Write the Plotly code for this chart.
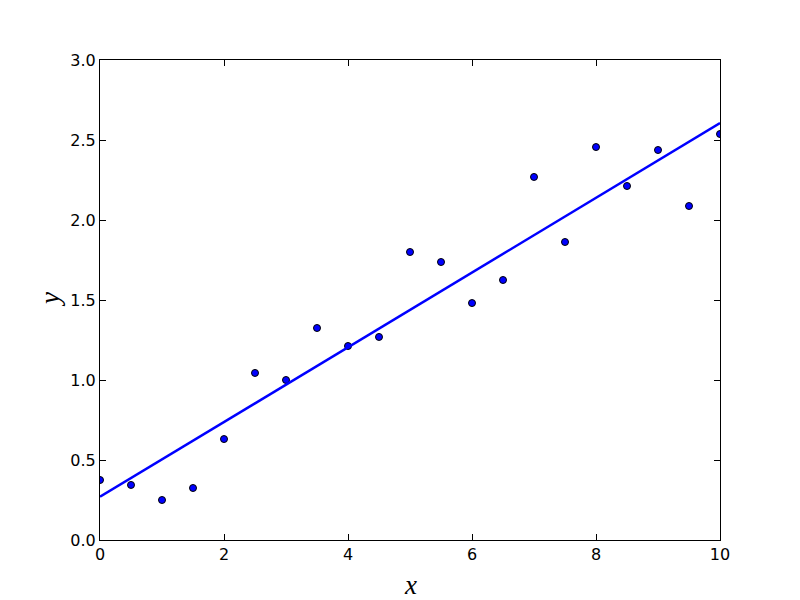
import plotly.graph_objects as go

x_vals = [0, 0.5, 1, 1.5, 2, 2.5, 3, 3.5, 4, 4.5, 5, 5.5, 6, 6.5, 7, 7.5, 8, 8.5, 9, 9.5, 10]
y_vals = [0.375, 0.344, 0.25, 0.325, 0.631, 1.044, 1.0, 1.325, 1.2125, 1.269, 1.8, 1.7375,
          1.481, 1.625, 2.269, 1.8625, 2.456, 2.2125, 2.4375, 2.0875, 2.5375]
fit_x = [0, 10]
fit_y = [0.27, 2.606]
x_ticks = [0, 2, 4, 6, 8, 10]
y_ticks = [0.0, 0.5, 1.0, 1.5, 2.0, 2.5, 3.0]
x_label = "x"
y_label = "y"

fig = go.Figure()
fig.add_trace(go.Scatter(x=x_vals, y=y_vals, mode="markers",
                         marker=dict(color="#0000ff", size=7, line=dict(color="black", width=1)),
                         cliponaxis=True, showlegend=False))
fig.add_trace(go.Scatter(x=fit_x, y=fit_y, mode="lines",
                         line=dict(color="#0000ff", width=2.5), showlegend=False))

axis_common = dict(showgrid=False, zeroline=False, showline=True, linecolor="black", linewidth=1,
                   mirror="ticks", ticks="inside", ticklen=6, tickcolor="black", tickwidth=1,
                   automargin=False,
                   tickfont=dict(family="DejaVu Sans", size=16, color="black"))
fig.update_xaxes(range=[0, 10], tickvals=x_ticks, ticktext=[str(v) for v in x_ticks], **axis_common)
fig.update_yaxes(range=[0, 3], tickvals=y_ticks, ticktext=[f"{v:.1f}" for v in y_ticks], **axis_common)

label_font = dict(family="Liberation Serif", size=27, color="black")
fig.add_annotation(text=f"<i>{x_label}</i>", xref="paper", yref="paper", x=0.5, y=0,
                   xanchor="center", yanchor="middle", yshift=-45, showarrow=False,
                   font=label_font, borderpad=0)
fig.add_annotation(text=f"<i>{y_label}</i>", xref="paper", yref="paper", x=0, y=0.5,
                   xanchor="center", yanchor="middle", xshift=-50, textangle=-90,
                   showarrow=False, font=label_font, borderpad=0)
fig.update_layout(width=800, height=600, margin=dict(l=100, r=80, t=60, b=60),
                  plot_bgcolor="white", paper_bgcolor="white")
fig.write_html("out.html", config={"displayModeBar": False},
               post_script="document.body.style.margin='0';")
